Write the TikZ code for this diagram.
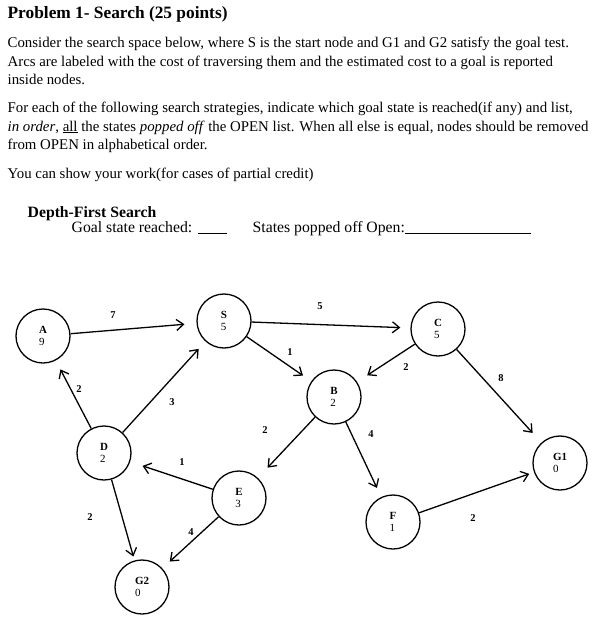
\documentclass[tikz,border=0pt]{standalone}
\usepackage{fontspec}
\setmainfont{Liberation Serif}
\usetikzlibrary{arrows.meta}
\tikzstyle{search}=[
  >={Straight Barb[length=7bp,width=11bp]}, line width=1.3bp
]
\tikzstyle{state}=[
  draw,circle,inner sep=0pt,minimum size=54bp,align=left,font=\fontsize{11}{12.5}\selectfont
]
\tikzstyle{arc}=[
  ->,line width=1.3bp,shorten >=10bp
]
\tikzstyle{cost}=[
  inner sep=1pt,font=\bfseries\fontsize{10.5}{11}\selectfont
]
\tikzstyle{txt}=[
  anchor=base west,inner sep=0pt,font=\fontsize{14.9}{17}\selectfont
]
\tikzstyle{dfstxt}=[
  anchor=base west,inner sep=0pt,font=\fontsize{15.8}{18}\selectfont
]
\newcommand{\st}[2]{\textbf{#1}\\#2}
\newcommand{\blank}[1]{\underline{\hspace{#1}}}

\begin{document}
\begin{tikzpicture}[search]
    \useasboundingbox (0bp,0bp) rectangle (594bp,-619bp);
    % problem text
    \node (title) at (7bp,-18bp) [txt,font=\bfseries\fontsize{17.4}{19}\selectfont] {Problem 1- Search (25 points)};
    \node (l1) at (7bp,-47bp) [txt] {Consider the search space below, where S is the start node and G1 and G2 satisfy the goal test.};
    \node (l2) at (7bp,-66bp) [txt] {Arcs are labeled with the cost of traversing them and the estimated cost to a goal is reported};
    \node (l3) at (7bp,-84bp) [txt] {inside nodes.};
    \node (l4) at (7bp,-112bp) [txt] {For each of the following search strategies, indicate which goal state is reached(if any) and list,};
    \node (l5) at (7bp,-131bp) [txt] {\textit{in order}, \underline{all} the states \textit{popped off} the OPEN list. When all else is equal, nodes should be removed};
    \node (l6) at (7bp,-149bp) [txt] {from OPEN in alphabetical order.};
    \node (l7) at (7bp,-178bp) [txt] {You can show your work(for cases of partial credit)};
    \node (dfs) at (27bp,-217bp) [dfstxt,font=\bfseries\fontsize{15.8}{18}\selectfont] {Depth-First Search};
    \node (goal) at (71bp,-232bp) [dfstxt] {Goal state reached: \blank{29bp}};
    \node (popped) at (252bp,-232bp) [dfstxt] {States popped off Open:\blank{126bp}};
    % states
    \node (A) at (43bp,-336bp) [state] {\st{A}{9}};
    \node (S) at (224bp,-321bp) [state] {\st{S}{5}};
    \node (C) at (438bp,-329bp) [state] {\st{C}{5}};
    \node (B) at (334bp,-397bp) [state] {\st{B}{2}};
    \node (D) at (104bp,-453bp) [state] {\st{D}{2}};
    \node (E) at (239bp,-498bp) [state] {\st{E}{3}};
    \node (F) at (393bp,-522bp) [state] {\st{F}{1}};
    \node (G1) at (560bp,-463bp) [state] {\st{G1}{0}};
    \node (G2) at (142bp,-587bp) [state] {\st{G2}{0}};
    % arcs
    \draw [arc,shorten >=12bp] (A) -- (S);
    \draw [arc] (S) -- (C);
    \draw [arc] (S) -- (B);
    \draw [arc,shorten >=12bp] (C) -- (B);
    \draw [arc,shorten >=13bp] (C) -- (G1);
    \draw [arc] (D) -- (A);
    \draw [arc] (D) -- (S);
    \draw [arc,shorten >=14bp] (B) -- (E);
    \draw [arc] (B) -- (F);
    \draw [arc,shorten >=13bp] (E) -- (D);
    \draw [arc,shorten >=4bp] (D) -- (G2);
    \draw [arc] (E) -- (G2);
    \draw [arc,shorten >=5bp] (F) -- (G1);
    % costs
    \node (cAS) at (113bp,-315bp) [cost] {7};
    \node (cSC) at (320bp,-306bp) [cost] {5};
    \node (cSB) at (290bp,-352bp) [cost] {1};
    \node (cCB) at (406bp,-367bp) [cost] {2};
    \node (cCG) at (501bp,-378bp) [cost] {8};
    \node (cDA) at (79bp,-389bp) [cost] {2};
    \node (cDS) at (172bp,-402bp) [cost] {3};
    \node (cBE) at (265bp,-430bp) [cost] {2};
    \node (cBF) at (371bp,-434bp) [cost] {4};
    \node (cED) at (182bp,-462bp) [cost] {1};
    \node (cDG) at (90bp,-517bp) [cost] {2};
    \node (cEG) at (191bp,-532bp) [cost] {4};
    \node (cFG) at (473bp,-518bp) [cost] {2};
\end{tikzpicture}
\end{document}
